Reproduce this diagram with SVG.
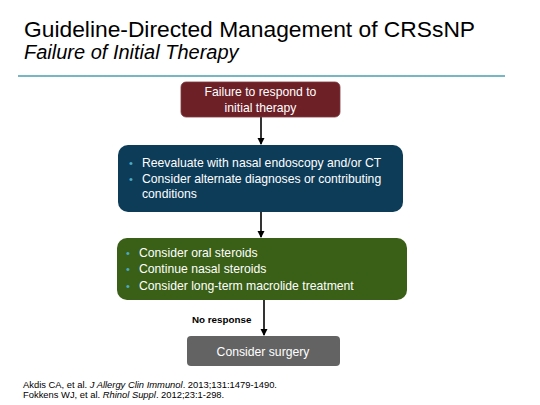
<svg xmlns="http://www.w3.org/2000/svg" width="540" height="405" viewBox="0 0 540 405">
<defs>
<style>
text{font-family:"Liberation Sans","DejaVu Sans",sans-serif;}
.t{fill:#000;}
.w{fill:#fff;font-size:12.2px;}
.b{fill:#4bacc6;font-size:11px;}
.c{stroke:#000;stroke-width:1.6;fill:none;marker-end:url(#ah);}
</style>
<marker id="ah" markerWidth="8" markerHeight="8" refX="6" refY="4" orient="auto" markerUnits="userSpaceOnUse">
<path d="M0,0.5 L7,4 L0,7.5 Z" fill="#000"/>
</marker>
</defs>
<rect width="540" height="405" fill="#fff"/>
<g id="title">
<text x="24" y="37" font-size="22.8" class="t">Guideline-Directed Management of CRSsNP</text>
<text x="24" y="59" font-size="20" font-style="italic" class="t">Failure of Initial Therapy</text>
<line x1="18" y1="76" x2="505" y2="76" stroke="#4a9fb0" stroke-width="1.3"/>
</g>
<g id="connectors">
<line class="c" x1="261" y1="117" x2="261" y2="144"/>
<line class="c" x1="261" y1="212" x2="261" y2="237"/>
<line class="c" x1="264" y1="300" x2="264" y2="335"/>
<text x="192" y="323" font-size="9.8" font-weight="bold" class="t">No response</text>
</g>
<g id="n1">
<rect x="181" y="82" width="159" height="35" rx="5" fill="#6e2027" stroke="#7d3a40" stroke-width="0.8"/>
<text x="260.5" y="96" text-anchor="middle" class="w">Failure to respond to</text>
<text x="260.5" y="112" text-anchor="middle" class="w">initial therapy</text>
</g>
<g id="n2">
<rect x="118" y="145" width="285" height="67" rx="10" fill="#0d3c59"/>
<text x="129" y="167" class="b">•</text>
<text x="142" y="167" class="w">Reevaluate with nasal endoscopy and/or CT</text>
<text x="129" y="183" class="b">•</text>
<text x="142" y="183" class="w">Consider alternate diagnoses or contributing</text>
<text x="142" y="198" class="w">conditions</text>
</g>
<g id="n3">
<rect x="117" y="238" width="290" height="62" rx="10" fill="#3a5f16"/>
<text x="126" y="257" class="b">•</text>
<text x="139" y="257" class="w">Consider oral steroids</text>
<text x="126" y="273" class="b">•</text>
<text x="139" y="273" class="w">Continue nasal steroids</text>
<text x="126" y="290" class="b">•</text>
<text x="139" y="290" class="w">Consider long-term macrolide treatment</text>
</g>
<g id="n4">
<rect x="187" y="336" width="153" height="30" rx="4" fill="#636363"/>
<text x="263" y="356" text-anchor="middle" class="w" font-size="13">Consider surgery</text>
</g>
<g id="refs" font-size="9.4" class="t">
<text x="23" y="388">Akdis CA, et al. <tspan font-style="italic">J Allergy Clin Immunol</tspan>. 2013;131:1479-1490.</text>
<text x="23" y="397.5">Fokkens WJ, et al. <tspan font-style="italic">Rhinol Suppl</tspan>. 2012;23:1-298.</text>
</g>
</svg>
